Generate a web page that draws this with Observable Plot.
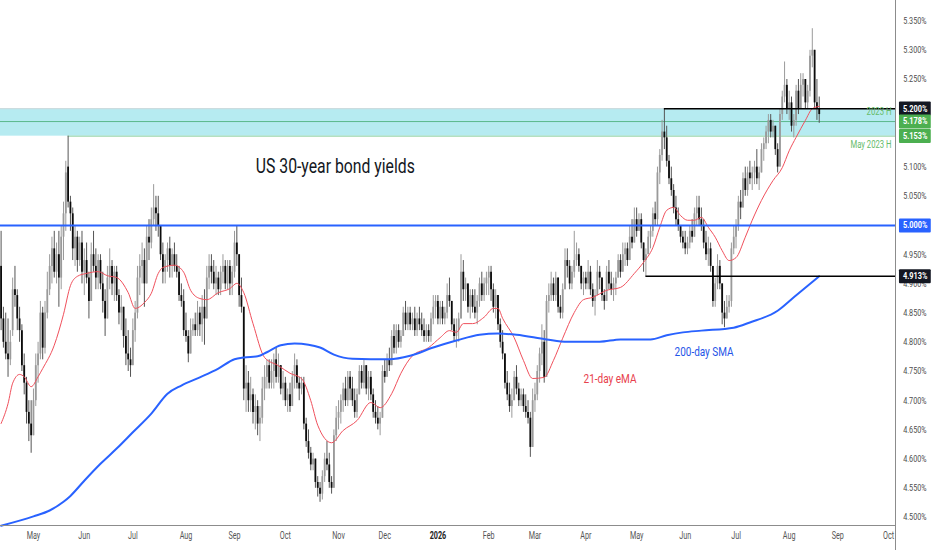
<!DOCTYPE html>
<html>
<head>
<meta charset="utf-8">
<script src="https://cdn.jsdelivr.net/npm/d3@7"></script>
<script src="https://cdn.jsdelivr.net/npm/@observablehq/plot@0.6"></script>
<style>
html, body { margin: 0; padding: 0; background: #ffffff; }
#chart svg { display: block; }
</style>
</head>
<body>
<div id="chart"></div>
<script>
// ---------------- data ----------------
const startDate = "2025-04-11"; // first daily bar (weekdays only)

const open = [
4.93,4.84,4.80,4.78,4.77,4.82,4.89,4.88,4.84,4.82, 4.76,4.73,4.68,4.66,4.64,4.70,4.76,4.78,4.85,4.79,
4.85,4.89,4.93,4.96,4.92,4.95,4.91,4.98,5.02,5.10, 5.04,5.02,4.96,4.98,4.94,4.97,4.92,4.94,4.91,4.87,
4.95,4.93,4.91,4.94,4.90,4.87,4.84,4.91,4.93,4.90, 4.92,4.88,4.85,4.86,4.81,4.78,4.77,4.76,4.82,4.85,
4.91,4.93,4.94,4.90,4.98,4.97,5.01,5.03,5.02,5.00, 4.95,4.92,4.94,4.96,4.93,4.95,4.93,4.92,4.88,4.87,
4.82,4.81,4.78,4.82,4.83,4.82,4.85,4.83,4.86,4.84, 4.91,4.93,4.92,4.90,4.91,4.89,4.92,4.93,4.90,4.93,
4.90,4.92,4.97,4.95,4.88,4.86,4.72,4.73,4.70,4.71, 4.68,4.69,4.66,4.67,4.72,4.74,4.76,4.73,4.75,4.77,
4.74,4.76,4.72,4.73,4.70,4.71,4.69,4.74,4.76,4.73, 4.72,4.73,4.66,4.63,4.61,4.59,4.60,4.56,4.55,4.54,
4.57,4.60,4.59,4.56,4.55,4.64,4.67,4.68,4.70,4.72, 4.70,4.74,4.72,4.70,4.68,4.71,4.75,4.73,4.76,4.72,
4.74,4.71,4.68,4.67,4.66,4.67,4.75,4.74,4.77,4.76, 4.81,4.79,4.82,4.80,4.81,4.85,4.83,4.85,4.83,4.84,
4.82,4.84,4.83,4.82,4.81,4.82,4.81,4.84,4.86,4.87, 4.84,4.86,4.84,4.85,4.88,4.87,4.83,4.81,4.82,4.84,
4.92,4.89,4.90,4.86,4.88,4.86,4.85,4.87,4.90,4.88, 4.90,4.91,4.92,4.89,4.86,4.88,4.83,4.80,4.78,4.73,
4.71,4.69,4.70,4.74,4.72,4.70,4.71,4.69,4.68,4.67, 4.62,4.70,4.71,4.75,4.78,4.80,4.74,4.87,4.88,4.90,
4.88,4.91,4.86,4.85,4.89,4.94,4.93,4.90,4.92,4.94, 4.95,4.93,4.90,4.91,4.90,4.92,4.89,4.87,4.88,4.92,
4.91,4.88,4.87,4.92,4.90,4.89,4.90,4.91,4.94,4.92, 4.95,4.96,4.94,4.98,4.97,5.01,4.99,5.01,4.97,4.94,
4.95,4.98,4.99,5.02,5.01,5.09,5.12,5.16,5.15,5.11, 5.08,5.06,5.03,5.01,5.00,4.98,4.97,4.96,4.97,4.99,
4.98,5.02,5.03,5.01,5.00,4.97,4.95,4.96,4.93,4.87, 4.90,4.93,4.90,4.85,4.84,4.86,4.87,4.96,4.98,5.00,
5.04,5.03,5.08,5.06,5.09,5.08,5.09,5.10,5.08,5.09, 5.13,5.14,5.16,5.18,5.16,5.17,5.13,5.10,5.19,5.22,
5.24,5.20,5.21,5.17,5.18,5.23,5.20,5.24,5.25,5.21, 5.23,5.29,5.30,5.21,5.20
];
const high = [
4.99,4.86,4.85,4.84,4.82,4.91,4.93,4.89,4.86,4.83, 4.78,4.74,4.70,4.70,4.72,4.78,4.80,4.87,4.86,4.87,
4.92,4.95,4.98,4.99,4.97,4.99,5.00,5.04,5.11,5.153, 5.05,5.03,5.00,4.99,4.98,4.99,4.96,4.97,4.92,4.97,
4.99,4.96,4.95,4.95,4.92,4.89,4.93,4.96,4.94,4.93, 4.93,4.89,4.88,4.86,4.84,4.82,4.79,4.84,4.87,4.93,
4.95,4.97,4.96,5.00,5.01,5.03,5.07,5.05,5.05,5.00, 4.97,4.95,4.97,4.98,4.96,4.97,4.95,4.93,4.90,4.89,
4.85,4.82,4.84,4.84,4.85,4.87,4.86,4.88,4.89,4.93, 4.95,4.95,4.94,4.93,4.92,4.93,4.95,4.94,4.94,4.94,
4.93,4.99,5.00,4.95,4.91,4.86,4.76,4.75,4.74,4.72, 4.71,4.70,4.69,4.74,4.76,4.77,4.77,4.77,4.78,4.79,
4.78,4.76,4.75,4.74,4.72,4.73,4.75,4.78,4.77,4.74, 4.74,4.74,4.67,4.65,4.62,4.61,4.60,4.57,4.56,4.58,
4.61,4.63,4.61,4.57,4.65,4.69,4.70,4.71,4.73,4.74, 4.75,4.75,4.74,4.72,4.72,4.76,4.76,4.77,4.76,4.75,
4.75,4.72,4.70,4.69,4.68,4.76,4.77,4.78,4.79,4.82, 4.83,4.83,4.83,4.82,4.86,4.87,4.86,4.86,4.85,4.86,
4.85,4.86,4.85,4.84,4.83,4.83,4.85,4.88,4.88,4.88, 4.87,4.87,4.86,4.90,4.91,4.87,4.84,4.84,4.85,4.95,
4.94,4.91,4.90,4.89,4.89,4.89,4.88,4.91,4.92,4.91, 4.92,4.93,4.93,4.90,4.89,4.88,4.84,4.82,4.78,4.75,
4.73,4.72,4.75,4.76,4.73,4.72,4.72,4.71,4.70,4.68, 4.72,4.73,4.76,4.79,4.83,4.82,4.88,4.90,4.92,4.91,
4.92,4.91,4.88,4.90,4.96,4.96,4.94,4.93,4.99,4.97, 4.96,4.93,4.92,4.92,4.94,4.93,4.90,4.89,4.94,4.93,
4.91,4.89,4.93,4.94,4.92,4.91,4.92,4.95,4.95,4.97, 4.97,4.97,5.00,5.01,5.03,5.03,5.02,5.02,4.97,4.96,
4.99,5.00,5.03,5.04,5.10,5.13,5.18,5.20,5.17,5.12, 5.10,5.07,5.05,5.03,5.00,4.99,4.99,4.98,5.00,5.01,
5.03,5.05,5.05,5.03,5.01,4.99,4.98,4.97,4.93,4.91, 4.95,4.94,4.90,4.87,4.88,4.88,4.97,5.00,5.01,5.05,
5.06,5.09,5.10,5.10,5.11,5.10,5.11,5.13,5.10,5.14, 5.15,5.17,5.19,5.19,5.18,5.17,5.14,5.20,5.23,5.28,
5.25,5.23,5.22,5.19,5.24,5.25,5.26,5.26,5.25,5.24, 5.30,5.337,5.30,5.25,5.22
];
const low = [
4.82,4.79,4.77,4.74,4.76,4.81,4.86,4.82,4.80,4.75, 4.71,4.66,4.63,4.61,4.64,4.69,4.73,4.77,4.77,4.78,
4.84,4.88,4.90,4.91,4.90,4.86,4.89,4.94,4.99,5.03, 4.99,4.94,4.93,4.92,4.93,4.90,4.88,4.90,4.84,4.87,
4.92,4.89,4.89,4.89,4.85,4.81,4.84,4.89,4.88,4.87, 4.87,4.83,4.82,4.79,4.76,4.75,4.74,4.76,4.80,4.84,
4.88,4.90,4.86,4.90,4.94,4.96,5.00,4.99,4.98,4.94, 4.90,4.90,4.92,4.91,4.91,4.92,4.91,4.87,4.86,4.81,
4.80,4.765,4.78,4.81,4.81,4.81,4.81,4.80,4.795,4.84, 4.89,4.90,4.89,4.88,4.88,4.88,4.90,4.89,4.89,4.88,
4.88,4.91,4.93,4.86,4.85,4.70,4.68,4.68,4.68,4.66, 4.65,4.64,4.63,4.66,4.70,4.72,4.72,4.72,4.72,4.73,
4.73,4.71,4.70,4.69,4.68,4.68,4.69,4.72,4.72,4.70, 4.71,4.65,4.62,4.60,4.58,4.58,4.55,4.535,4.526,4.53,
4.56,4.58,4.55,4.54,4.55,4.63,4.65,4.66,4.68,4.69, 4.69,4.70,4.69,4.67,4.67,4.71,4.72,4.72,4.71,4.70,
4.70,4.67,4.66,4.65,4.64,4.67,4.73,4.74,4.75,4.76, 4.78,4.78,4.79,4.79,4.81,4.82,4.82,4.82,4.82,4.81,
4.81,4.82,4.81,4.80,4.80,4.80,4.80,4.83,4.84,4.83, 4.83,4.83,4.83,4.84,4.86,4.82,4.80,4.79,4.80,4.84,
4.87,4.87,4.85,4.84,4.85,4.84,4.83,4.86,4.87,4.87, 4.88,4.88,4.87,4.85,4.84,4.82,4.79,4.77,4.72,4.70,
4.68,4.67,4.70,4.71,4.69,4.69,4.68,4.67,4.66,4.603, 4.62,4.68,4.70,4.73,4.76,4.73,4.74,4.85,4.87,4.87,
4.87,4.85,4.84,4.84,4.89,4.91,4.89,4.89,4.91,4.93, 4.92,4.89,4.88,4.89,4.89,4.88,4.86,4.845,4.88,4.89,
4.87,4.855,4.87,4.89,4.88,4.87,4.88,4.91,4.91,4.92, 4.93,4.93,4.94,4.96,4.97,4.98,4.99,4.96,4.92,4.913,
4.95,4.96,4.98,5.00,5.00,5.07,5.11,5.13,5.10,5.07, 5.05,5.02,5.00,4.99,4.97,4.96,4.95,4.95,4.96,4.97,
4.98,5.00,5.00,4.99,4.96,4.94,4.93,4.92,4.86,4.86, 4.89,4.89,4.83,4.825,4.84,4.85,4.86,4.95,4.96,4.99,
5.01,5.03,5.05,5.05,5.07,5.06,5.07,5.07,5.06,5.09, 5.11,5.13,5.14,5.15,5.15,5.12,5.09,5.10,5.18,5.21,
5.19,5.18,5.16,5.15,5.17,5.19,5.20,5.22,5.20,5.20, 5.22,5.27,5.20,5.18,5.175
];
const close = [
4.84,4.80,4.78,4.77,4.80,4.89,4.88,4.84,4.82,4.76, 4.73,4.68,4.66,4.64,4.70,4.76,4.78,4.85,4.79,4.85,
4.89,4.93,4.96,4.92,4.95,4.91,4.98,5.02,5.09,5.04, 5.02,4.96,4.98,4.94,4.97,4.92,4.94,4.91,4.87,4.95,
4.93,4.91,4.94,4.90,4.87,4.84,4.91,4.93,4.90,4.92, 4.88,4.85,4.86,4.81,4.78,4.77,4.76,4.82,4.85,4.91,
4.93,4.94,4.90,4.98,4.97,5.01,5.03,5.02,5.00,4.95, 4.92,4.94,4.96,4.93,4.95,4.93,4.92,4.88,4.87,4.82,
4.81,4.78,4.82,4.83,4.82,4.85,4.83,4.86,4.84,4.91, 4.93,4.92,4.90,4.91,4.89,4.92,4.93,4.90,4.93,4.90,
4.92,4.97,4.95,4.88,4.86,4.72,4.73,4.70,4.71,4.68, 4.69,4.66,4.67,4.72,4.74,4.76,4.73,4.75,4.77,4.74,
4.76,4.72,4.73,4.70,4.71,4.69,4.74,4.76,4.73,4.72, 4.73,4.66,4.63,4.61,4.59,4.60,4.56,4.55,4.54,4.57,
4.60,4.59,4.56,4.55,4.64,4.67,4.68,4.70,4.72,4.70, 4.74,4.72,4.70,4.68,4.71,4.75,4.73,4.76,4.72,4.74,
4.71,4.68,4.67,4.66,4.67,4.75,4.74,4.77,4.76,4.81, 4.79,4.82,4.80,4.81,4.85,4.83,4.85,4.83,4.84,4.82,
4.84,4.83,4.82,4.81,4.82,4.81,4.84,4.86,4.87,4.84, 4.86,4.84,4.85,4.88,4.87,4.83,4.81,4.82,4.84,4.92,
4.89,4.90,4.86,4.88,4.86,4.85,4.87,4.90,4.88,4.90, 4.91,4.92,4.89,4.86,4.88,4.83,4.80,4.78,4.73,4.71,
4.69,4.70,4.74,4.72,4.70,4.71,4.69,4.68,4.67,4.62, 4.70,4.71,4.75,4.78,4.80,4.74,4.87,4.88,4.90,4.88,
4.91,4.86,4.85,4.89,4.94,4.93,4.90,4.92,4.94,4.95, 4.93,4.90,4.91,4.90,4.92,4.89,4.87,4.88,4.92,4.91,
4.88,4.87,4.92,4.90,4.89,4.90,4.91,4.94,4.92,4.95, 4.96,4.94,4.98,4.97,5.01,4.99,5.01,4.97,4.94,4.95,
4.98,4.99,5.02,5.01,5.09,5.12,5.16,5.15,5.11,5.08, 5.06,5.03,5.01,5.00,4.98,4.97,4.96,4.97,4.99,4.98,
5.02,5.03,5.01,5.00,4.97,4.95,4.96,4.93,4.87,4.90, 4.93,4.90,4.85,4.84,4.86,4.87,4.96,4.98,5.00,5.04,
5.03,5.08,5.06,5.09,5.08,5.09,5.10,5.08,5.09,5.13, 5.14,5.16,5.18,5.16,5.17,5.13,5.10,5.19,5.22,5.24,
5.20,5.21,5.17,5.18,5.23,5.20,5.24,5.25,5.21,5.23, 5.29,5.30,5.21,5.20,5.19
];

// 21-day EMA: bar index / value
const emaIdx = [0,3,5,8,10,13,16,18,23,27,30,33,37,42,46,50,55,58,62,65,68,70,75,79,82,86,89,94,99,102,105,109,114,120,125,130,134,137,143,148,154,160,164,169,173,178,185,190,194,197,200,204,209,213,215,217,222,226,230,235,239,243,248,252,256,262,268,274,278,282,285,288,291,294,297,300,303,306,309,312,315,318,322,325,329,334,338,341,344,348,351,354];
const emaVal = [4.661,4.695,4.730,4.745,4.741,4.724,4.741,4.755,4.795,4.848,4.897,4.913,4.918,4.921,4.914,4.911,4.885,4.858,4.868,4.884,4.918,4.928,4.932,4.920,4.889,4.875,4.873,4.885,4.892,4.901,4.885,4.832,4.774,4.760,4.747,4.738,4.700,4.658,4.628,4.649,4.666,4.697,4.688,4.712,4.747,4.777,4.791,4.808,4.820,4.817,4.832,4.832,4.843,4.858,4.858,4.841,4.808,4.769,4.738,4.740,4.769,4.807,4.851,4.873,4.877,4.889,4.894,4.918,4.937,4.962,4.997,5.026,5.031,5.017,5.009,5.009,5.014,4.997,4.980,4.957,4.940,4.945,4.980,5.009,5.043,5.077,5.099,5.128,5.151,5.180,5.200,5.204];

// 200-day SMA: bar index / value
const smaIdx = [0,14,21,27,30,36,43,50,57,65,72,78,86,94,101,105,111,115,121,127,133,138,144,152,168,177,187,197,207,215,223,236,245,259,268,281,288,295,303,317,324,336,343,354];
const smaVal = [4.486,4.502,4.512,4.527,4.537,4.563,4.592,4.618,4.646,4.678,4.712,4.726,4.740,4.755,4.771,4.774,4.776,4.783,4.795,4.798,4.796,4.791,4.779,4.772,4.771,4.777,4.791,4.803,4.813,4.815,4.813,4.805,4.801,4.801,4.805,4.805,4.812,4.817,4.820,4.825,4.834,4.854,4.877,4.913];

// price-axis tick labels and marked levels
const yTicks = [5.35, 5.30, 5.25, 5.10, 5.05, 4.95, 4.90, 4.85, 4.80, 4.75, 4.70, 4.65, 4.60, 4.55, 4.50];
const levelValues = [5.200, 5.178, 5.153, 5.000, 4.913];
const zoneLow = 5.153, zoneMid = 5.178, zoneHigh = 5.200;
const roundLevel = 5.000;
const may2025HighIdx = 29;   // bar of the May high (5.153)
const recentHighIdx = 287;   // bar of the 5.200 high
const swingLowIdx = 279;     // bar of the 4.913 low

const titleText = "US 30-year bond yields";
const emaLabel = "21-day eMA";
const smaLabel = "200-day SMA";
const zoneTopLabel = "2023 H";
const zoneLowLabel = "May 2023 H";

// ---------------- build ----------------
const monthNames = ["Jan","Feb","Mar","Apr","May","Jun","Jul","Aug","Sep","Oct","Nov","Dec"];
function tradingDays(start, n) {
  const out = [];
  const d = new Date(start + "T12:00:00Z");
  while (out.length < n) {
    const wd = d.getUTCDay();
    if (wd !== 0 && wd !== 6) out.push(new Date(d));
    d.setUTCDate(d.getUTCDate() + 1);
  }
  return out;
}
const xMin = -0.26, xMax = 387.0;
const days = tradingDays(startDate, 400);
const monthTicks = [];
for (let i = 1; i <= xMax; i++) {
  if (days[i].getUTCMonth() !== days[i - 1].getUTCMonth()) {
    const m = days[i].getUTCMonth();
    monthTicks.push({i, label: m === 0 ? String(days[i].getUTCFullYear()) : monthNames[m], year: m === 0});
  }
}

const bars = close.map((c, i) => ({i, o: open[i], h: high[i], l: low[i], c}));
const upBars = bars.filter(d => d.c >= d.o);
const downBars = bars.filter(d => d.c < d.o);
const ema = emaIdx.map((i, k) => ({i, v: emaVal[k]}));
const sma = smaIdx.map((i, k) => ({i, v: smaVal[k]}));

const upColor = "#9a9a9a", downColor = "#0c0c0c";
const levelStyle = [
  {bg: "#131722", fg: "#ffffff"},
  {bg: "#4caf50", fg: "#ffffff"},
  {bg: "#4caf50", fg: "#ffffff"},
  {bg: "#2962ff", fg: "#ffffff"},
  {bg: "#131722", fg: "#ffffff"}
];
const yMin = 4.4863, yMax = 5.3853;
const font = "Roboto, 'DejaVu Sans', sans-serif";

const chart = Plot.plot({
  width: 932, height: 550,
  marginTop: 0, marginRight: 37, marginBottom: 25, marginLeft: 0,
  x: {type: "linear", domain: [xMin, xMax], axis: null},
  y: {type: "linear", domain: [yMin, yMax], axis: null},
  style: {background: "#ffffff", fontFamily: font, overflow: "visible"},
  marks: [
    Plot.rect([{lo: zoneLow, hi: zoneHigh}], {y1: "lo", y2: "hi", fill: "#b6ebf1"}),
    Plot.ruleY([zoneHigh], {stroke: "#cdd7da", strokeWidth: 1}),
    Plot.ruleY([zoneMid], {stroke: "#5bb98c", strokeWidth: 1}),
    Plot.ruleY([{v: zoneLow, a: may2025HighIdx}], {y: "v", x1: "a", x2: () => xMax, stroke: "#8fd0a0", strokeWidth: 1}),
    // candles
    Plot.ruleX(upBars, {x: "i", y1: "l", y2: "h", stroke: upColor, strokeWidth: 1}),
    Plot.ruleX(upBars, {x: "i", y1: "o", y2: "c", stroke: upColor, strokeWidth: 1.8}),
    Plot.ruleX(downBars, {x: "i", y1: "l", y2: "h", stroke: "#555555", strokeWidth: 1}),
    Plot.ruleX(downBars, {x: "i", y1: "o", y2: "c", stroke: downColor, strokeWidth: 1.8}),
    // moving averages
    Plot.line(ema, {x: "i", y: "v", stroke: "#f0505c", strokeWidth: 1, curve: "monotone-x"}),
    Plot.line(sma, {x: "i", y: "v", stroke: "#2962ff", strokeWidth: 2, curve: "monotone-x"}),
    // levels
    Plot.ruleY([roundLevel], {stroke: "#2962ff", strokeWidth: 2}),
    Plot.ruleY([{v: zoneHigh, a: recentHighIdx}], {y: "v", x1: "a", x2: () => xMax, stroke: "#000000", strokeWidth: 1.5}),
    Plot.ruleY([{v: levelValues[4], a: swingLowIdx}], {y: "v", x1: "a", x2: () => xMax, stroke: "#000000", strokeWidth: 1.5}),
    // frame lines
    Plot.ruleX([xMax], {stroke: "#8c8c8c", strokeWidth: 1, insetBottom: -25}),
    Plot.ruleY([yMin], {stroke: "#8c8c8c", strokeWidth: 1}),
    // axis labels
    Plot.text(monthTicks.filter(d => !d.year), {x: "i", text: "label", frameAnchor: "bottom", dy: 13, fontSize: 10, fill: "#555555", className: "ax"}),
    Plot.text(monthTicks.filter(d => d.year), {x: "i", text: "label", frameAnchor: "bottom", dy: 13, fontSize: 10, fontWeight: "bold", fill: "#222222", className: "ax"}),
    Plot.text(yTicks, {y: d => d, text: d => d.toFixed(3) + "%", frameAnchor: "right", dx: 31, textAnchor: "end", fontSize: 9, fill: "#4d4d4d", className: "axy"}),
    // annotations
    Plot.text([titleText], {x: () => 110.2, y: () => 5.100, text: d => d, textAnchor: "start", fontSize: 19.5, fill: "#131722", className: "t-title"}),
    Plot.text([emaLabel], {x: () => 252.0, y: () => 4.738, text: d => d, textAnchor: "start", fontSize: 13, fill: "#e8414c", className: "t-ema"}),
    Plot.text([smaLabel], {x: () => 291.4, y: () => 4.783, text: d => d, textAnchor: "start", fontSize: 13, fill: "#1f55e8", className: "t-sma"}),
    Plot.text([zoneTopLabel], {y: () => 5.194, text: d => d, frameAnchor: "right", dx: -4, textAnchor: "end", fontSize: 10, fill: "#66bb6a", className: "t-ztop"}),
    Plot.text([zoneLowLabel], {y: () => 5.139, text: d => d, frameAnchor: "right", dx: -4, textAnchor: "end", fontSize: 10, fill: "#66bb6a", className: "t-zlow"}),
    // level price labels
    ...levelValues.map((v, k) => Plot.text([v], {y: d => d, text: d => d.toFixed(3) + "%", frameAnchor: "right", dx: 32, textAnchor: "end", fontSize: 9, fontWeight: "bold", fill: levelStyle[k].fg, className: "lvl lvl" + k}))
  ]
});

document.getElementById("chart").append(chart);

// condense texts (the reference typography is narrow)
const svg = d3.select(chart);
function squish(sel, k) {
  sel.each(function () {
    const L = this.getComputedTextLength();
    if (L > 0) {
      this.setAttribute("textLength", (L * k).toFixed(2));
      this.setAttribute("lengthAdjust", "spacingAndGlyphs");
    }
  });
}
function fit(sel, w) {
  sel.attr("textLength", w).attr("lengthAdjust", "spacingAndGlyphs");
}
squish(svg.selectAll("g.ax text"), 0.72);
squish(svg.selectAll("g.axy text"), 0.80);
squish(svg.selectAll("g.lvl text"), 0.82);
fit(svg.selectAll("g.t-title text"), 159);
fit(svg.selectAll("g.t-ema text"), 53);
fit(svg.selectAll("g.t-sma text"), 59);
fit(svg.selectAll("g.t-ztop text"), 25);
fit(svg.selectAll("g.t-zlow text"), 41);

// label boxes behind level prices
levelValues.forEach((v, k) => {
  svg.selectAll("g.lvl" + k + " text").each(function () {
    const b = this.getBBox();
    const cy = b.y + b.height / 2;
    const r = document.createElementNS("http://www.w3.org/2000/svg", "rect");
    r.setAttribute("x", b.x - 4);
    r.setAttribute("y", cy - 7);
    r.setAttribute("width", b.width + 7);
    r.setAttribute("height", 14);
    r.setAttribute("rx", 1);
    r.setAttribute("fill", levelStyle[k].bg);
    const t = this.getAttribute("transform");
    if (t) r.setAttribute("transform", t);
    this.parentNode.insertBefore(r, this);
  });
});
</script>
</body>
</html>
